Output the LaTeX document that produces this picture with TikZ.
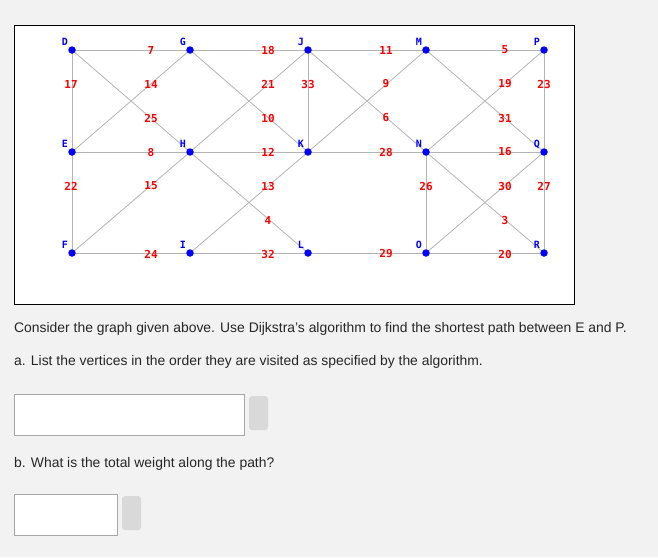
\documentclass[tikz,border=0pt]{standalone}
\usepackage{fontspec}
\setmainfont{Liberation Sans}
\newfontfamily\monof{DejaVu Sans Mono}
\definecolor{bg}{HTML}{F2F2F2}
\definecolor{edgec}{HTML}{B4B4B4}
\definecolor{btn}{HTML}{D9D9D9}
\begin{document}
\begin{tikzpicture}[x=1pt,y=-1pt,
  vtx/.style={circle,fill=blue,inner sep=0pt,minimum size=7.5pt},
  vlab/.style={text=blue,font=\monof\bfseries\fontsize{10}{10}\selectfont,inner sep=0pt},
  wlab/.style={text=red,font=\monof\bfseries\fontsize{11}{11}\selectfont,inner sep=0pt},
  edg/.style={draw=edgec,line width=0.8pt},
  qtext/.style={anchor=west,font=\fontsize{13.9}{16}\selectfont,text=black!85,inner sep=0pt},
  inbox/.style={draw=black!35,fill=white,line width=0.6pt},
  btnbox/.style={fill=btn,rounded corners=3pt}]
\fill[bg] (0,0) rectangle (658,557);
\useasboundingbox (0,0) rectangle (658,557);
\draw[fill=white,line width=0.8pt] (14,25) rectangle (574,304);
% vertices
\foreach \n/\x/\y in {D/72/50,G/190/50,J/308/50,M/426/50,P/544/50,
  E/72/152,H/190/152,K/308/152,N/426/152,Q/544/152,
  F/72/253,I/190/253,L/308/253,O/426/253,R/544/253}{
  \coordinate (\n) at (\x,\y);
}
% edges
\foreach \a/\b in {D/G,G/J,J/M,M/P,D/E,E/G,D/H,G/K,H/J,J/K,K/M,J/N,N/P,M/Q,P/Q,
  E/H,H/K,K/N,N/Q,E/F,F/H,H/L,I/K,N/O,N/R,O/Q,Q/R,F/I,I/L,L/O,O/R}{
  \draw[edg] (\a) -- (\b);
}
\foreach \n in {D,G,J,M,P,E,H,K,N,Q,F,I,L,O,R}{
  \node[vtx] (v\n) at (\n) {};
  \node[vlab] at ([shift={(-7,-8)}]\n) {\n};
}
% weights
\foreach \w/\x/\y in {7/151/50,18/268/50,11/386/50,5/505/50,
  17/71/84,14/151/84,21/268/84,33/308/84,9/386/84,19/505/84,23/544/84,
  25/151/118,10/268/118,6/386/118,31/505/118,
  8/151/152,12/268/152,28/386/152,16/505/152,
  22/71/186,15/151/186,13/268/186,26/426/186,30/505/186,27/544/186,
  4/268/220,3/505/220,
  24/151/254,32/268/254,29/386/254,20/505/254}{
  \node[wlab] at (\x,\y) {\w};
}
\node[qtext] (q1) at (14,329) {Consider the graph given above. Use Dijkstra's algorithm to find the shortest path between E and P.};
\node[qtext] (q2) at (14,362) {a. List the vertices in the order they are visited as specified by the algorithm.};
\draw[inbox] (14,394) rectangle (244,435);
\fill[btnbox] (249,396) rectangle (268,430);
\node[qtext] (q3) at (14,464) {b. What is the total weight along the path?};
\draw[inbox] (14,494) rectangle (117,535);
\fill[btnbox] (122,496) rectangle (141,530);
\end{tikzpicture}
\end{document}
